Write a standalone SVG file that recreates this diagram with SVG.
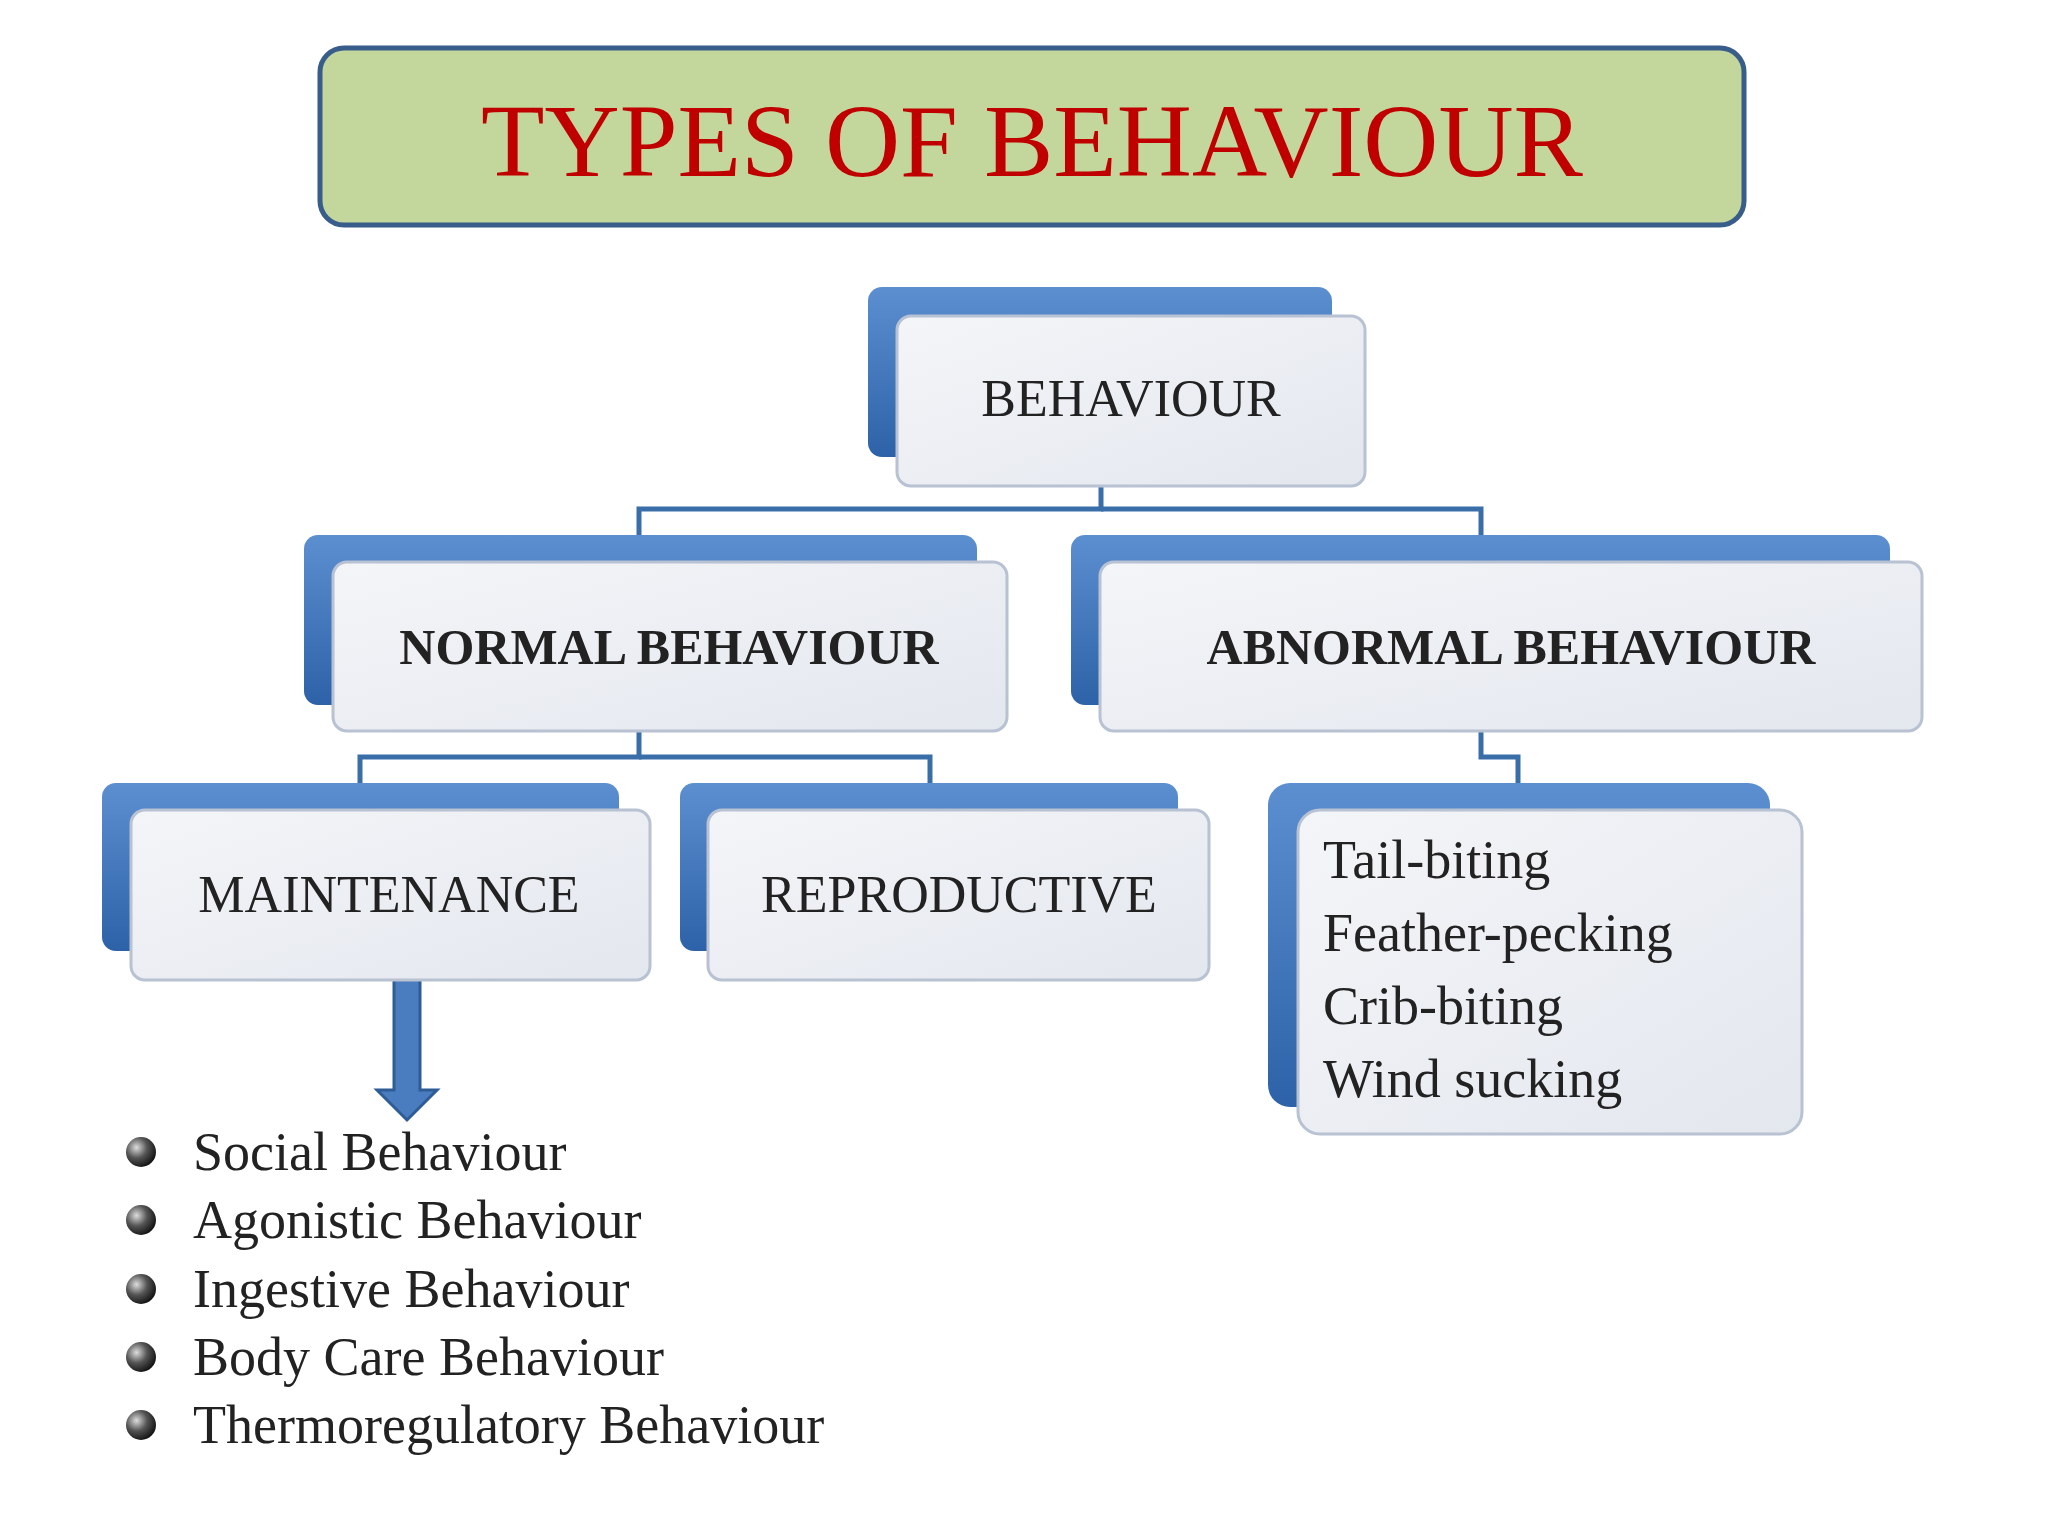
<svg xmlns="http://www.w3.org/2000/svg" width="2048" height="1536" viewBox="0 0 2048 1536">
<defs>
<linearGradient id="blue" x1="0" y1="0" x2="0" y2="1"><stop offset="0" stop-color="#5b8fd0"/><stop offset="1" stop-color="#2e62a8"/></linearGradient>
<linearGradient id="face" x1="0" y1="0" x2="1" y2="1"><stop offset="0" stop-color="#f4f5f8"/><stop offset="1" stop-color="#e3e7ee"/></linearGradient>
<radialGradient id="ball" cx="0.35" cy="0.35" r="0.7"><stop offset="0" stop-color="#ddd"/><stop offset="0.5" stop-color="#555"/><stop offset="1" stop-color="#111"/></radialGradient>
</defs>
<style>
.back{fill:url(#blue);}
.front{fill:url(#face);stroke:#b8c2d2;stroke-width:3;}
.t{font-family:"Liberation Serif",serif;fill:#222;text-anchor:middle;}
.b{font-weight:bold;}
.conn{stroke:#3a6ea8;stroke-width:5;fill:none;}
.l{font-family:"Liberation Serif",serif;fill:#222;font-size:54px;}
</style>
<rect width="2048" height="1536" fill="#ffffff"/>
<g id="title">
<rect x="320" y="48" width="1424" height="177" rx="24" fill="#c3d69b" stroke="#385d8a" stroke-width="5"/>
<text x="1032" y="176" class="t" font-size="104" fill="#c00000" style="fill:#c00000">TYPES OF BEHAVIOUR</text>
</g>
<g id="connectors">
<polyline class="conn" points="1101,486 1101,509 639,509 639,535"/>
<polyline class="conn" points="1101,509 1481,509 1481,535"/>
<polyline class="conn" points="639,731 639,757 360,757 360,783"/>
<polyline class="conn" points="639,757 930,757 930,783"/>
<polyline class="conn" points="1481,731 1481,757 1518,757 1518,783"/>
<polygon points="394,973 420,973 420,1090 437,1090 407,1120 377,1090 394,1090" fill="#4a7dbf" stroke="#2e5c96" stroke-width="3"/>
</g>
<g id="behaviour">
<rect class="back" x="868" y="287" width="464" height="170" rx="14"/>
<rect class="front" x="897" y="316" width="468" height="170" rx="14"/>
<text x="1131" y="416" class="t" font-size="52">BEHAVIOUR</text>
</g>
<g id="normal">
<rect class="back" x="304" y="535" width="673" height="170" rx="14"/>
<rect class="front" x="333" y="562" width="674" height="169" rx="14"/>
<text x="669" y="664" class="t b" font-size="50">NORMAL BEHAVIOUR</text>
</g>
<g id="abnormal">
<rect class="back" x="1071" y="535" width="819" height="170" rx="14"/>
<rect class="front" x="1100" y="562" width="822" height="169" rx="14"/>
<text x="1511" y="664" class="t b" font-size="50">ABNORMAL BEHAVIOUR</text>
</g>
<g id="maintenance">
<rect class="back" x="102" y="783" width="517" height="168" rx="14"/>
<rect class="front" x="131" y="810" width="519" height="170" rx="14"/>
<text x="389" y="912" class="t" font-size="52">MAINTENANCE</text>
</g>
<g id="reproductive">
<rect class="back" x="680" y="783" width="498" height="168" rx="14"/>
<rect class="front" x="708" y="810" width="501" height="170" rx="14"/>
<text x="959" y="912" class="t" font-size="52">REPRODUCTIVE</text>
</g>
<g id="abnormal-list">
<rect class="back" x="1268" y="783" width="502" height="324" rx="22"/>
<rect class="front" x="1298" y="810" width="504" height="324" rx="22"/>
<text x="1323" y="878" class="l" font-size="52">Tail-biting</text>
<text x="1323" y="951" class="l" font-size="52">Feather-pecking</text>
<text x="1323" y="1024" class="l" font-size="52">Crib-biting</text>
<text x="1323" y="1097" class="l" font-size="52">Wind sucking</text>
</g>
<g id="maintenance-list">
<circle cx="141" cy="1152" r="15" fill="url(#ball)"/>
<circle cx="141" cy="1220" r="15" fill="url(#ball)"/>
<circle cx="141" cy="1289" r="15" fill="url(#ball)"/>
<circle cx="141" cy="1357" r="15" fill="url(#ball)"/>
<circle cx="141" cy="1425" r="15" fill="url(#ball)"/>
<text x="193" y="1170" class="l">Social Behaviour</text>
<text x="193" y="1238" class="l">Agonistic Behaviour</text>
<text x="193" y="1307" class="l">Ingestive Behaviour</text>
<text x="193" y="1375" class="l">Body Care Behaviour</text>
<text x="193" y="1443" class="l">Thermoregulatory Behaviour</text>
</g>
</svg>
